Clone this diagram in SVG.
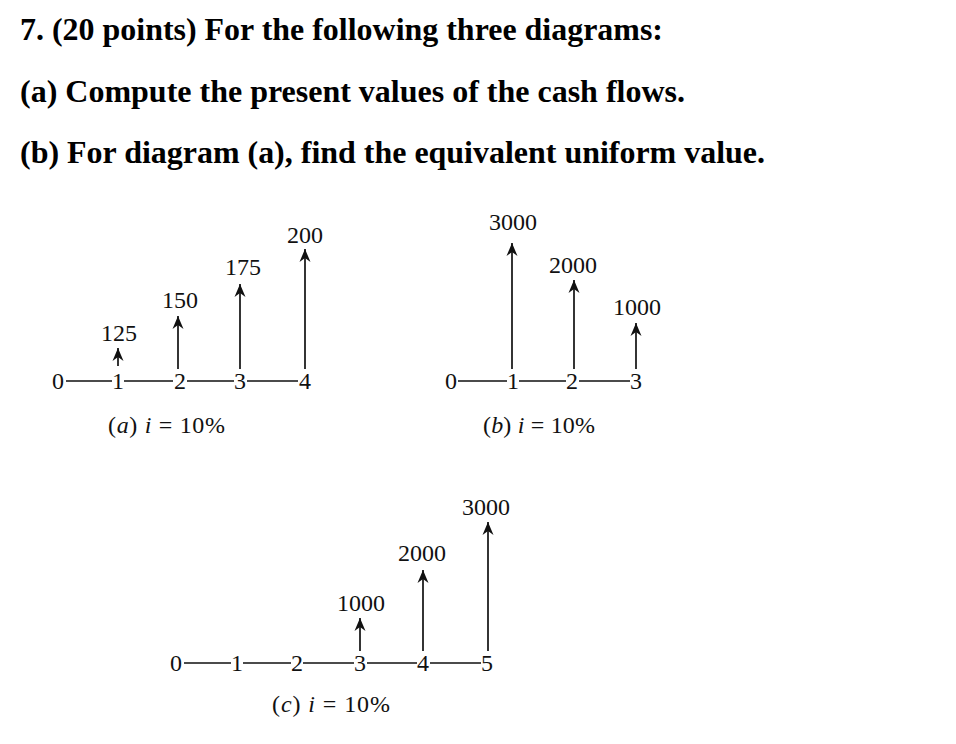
<svg xmlns="http://www.w3.org/2000/svg" width="956" height="744" viewBox="0 0 956 744">
<style>
.title{font-family:"Liberation Serif","Times New Roman",serif;font-weight:bold;font-size:32px;fill:#000}
.num{font-family:"Liberation Serif","Times New Roman",serif;font-size:24px;fill:#111;text-anchor:middle}
.cap{font-family:"Liberation Serif","Times New Roman",serif;font-size:24px;fill:#111}
.it{font-style:italic}
.axis{stroke:#111;stroke-width:1.6;fill:none}
.flow{stroke:#111;stroke-width:1.7;fill:none;marker-end:url(#ah)}
</style>
<defs>
<marker id="ah" markerUnits="userSpaceOnUse" viewBox="-14 -7 15 14" refX="0" refY="0" markerWidth="15" markerHeight="14" orient="auto">
<path d="M0,0 L-13,-5.5 L-9,0 L-13,5.5 Z" fill="#111"/>
</marker>
</defs>
<rect width="956" height="744" fill="#fff"/>
<g id="title">
<text class="title" x="20" y="40" textLength="643" lengthAdjust="spacingAndGlyphs">7. (20 points) For the following three diagrams:</text>
<text class="title" x="20" y="102" textLength="665" lengthAdjust="spacingAndGlyphs">(a) Compute the present values of the cash flows.</text>
<text class="title" x="20" y="163" textLength="745" lengthAdjust="spacingAndGlyphs">(b) For diagram (a), find the equivalent uniform value.</text>
</g>
<g id="diagram-a">
<g id="a-axis">
<path class="axis" d="M66,381H112M124,381H173M187,381H234M247,381H298"/>
<text class="num" x="58" y="389">0</text>
<text class="num" x="118" y="389">1</text>
<text class="num" x="180" y="389">2</text>
<text class="num" x="240" y="389">3</text>
<text class="num" x="305" y="389">4</text>
</g>
<g id="a-flows">
<line class="flow" x1="118" y1="366" x2="118" y2="348"/>
<line class="flow" x1="178" y1="369" x2="178" y2="316"/>
<line class="flow" x1="240" y1="369" x2="240" y2="284"/>
<line class="flow" x1="305" y1="369" x2="305" y2="249"/>
<text class="num" x="119" y="341">125</text>
<text class="num" x="180" y="308">150</text>
<text class="num" x="243" y="275">175</text>
<text class="num" x="305" y="243">200</text>
</g>
<text class="cap" x="108" y="433" textLength="117" lengthAdjust="spacing">(<tspan class="it">a</tspan>) <tspan class="it">i</tspan> = 10%</text>
</g>
<g id="diagram-b">
<g id="b-axis">
<path class="axis" d="M458,381H507M519,381H566M579,381H630"/>
<text class="num" x="451" y="389">0</text>
<text class="num" x="513" y="389">1</text>
<text class="num" x="572" y="389">2</text>
<text class="num" x="636" y="389">3</text>
</g>
<g id="b-flows">
<line class="flow" x1="512" y1="369" x2="512" y2="243"/>
<line class="flow" x1="574" y1="369" x2="574" y2="280"/>
<line class="flow" x1="636" y1="369" x2="636" y2="323"/>
<text class="num" x="513" y="230">3000</text>
<text class="num" x="573" y="273">2000</text>
<text class="num" x="637" y="315">1000</text>
</g>
<text class="cap" x="483" y="433" textLength="112" lengthAdjust="spacing">(<tspan class="it">b</tspan>) <tspan class="it">i</tspan> = 10%</text>
</g>
<g id="diagram-c">
<g id="c-axis">
<path class="axis" d="M184,663H231M243,663H291M303,663H354M367,663H417M430,663H481"/>
<text class="num" x="176" y="671">0</text>
<text class="num" x="237" y="671">1</text>
<text class="num" x="297" y="671">2</text>
<text class="num" x="360" y="671">3</text>
<text class="num" x="423" y="671">4</text>
<text class="num" x="487" y="671">5</text>
</g>
<g id="c-flows">
<line class="flow" x1="360" y1="651" x2="360" y2="618"/>
<line class="flow" x1="423" y1="651" x2="423" y2="570"/>
<line class="flow" x1="488" y1="651" x2="488" y2="522"/>
<text class="num" x="361" y="611">1000</text>
<text class="num" x="422" y="561">2000</text>
<text class="num" x="486" y="515">3000</text>
</g>
<text class="cap" x="272" y="712" textLength="118" lengthAdjust="spacing">(<tspan class="it">c</tspan>) <tspan class="it">i</tspan> = 10%</text>
</g>
</svg>
